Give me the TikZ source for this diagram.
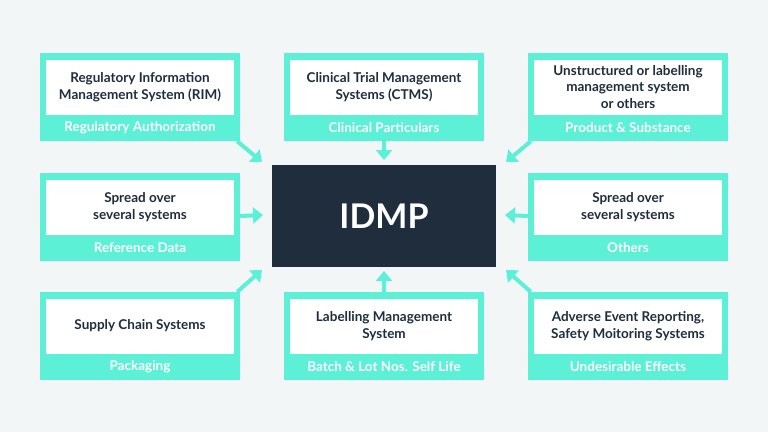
\documentclass[tikz,border=0pt]{standalone}
\usepackage{fontspec}
\setmainfont{Lato}
\usetikzlibrary{arrows.meta}
\definecolor{bg}{HTML}{F3F6F6}
\definecolor{tq}{HTML}{5CF0D6}
\definecolor{navy}{HTML}{1F2D3D}
\begin{document}
\begin{tikzpicture}[x=1pt,y=-1pt,
  outer/.style={fill=tq,draw=none,minimum width=200pt,minimum height=88pt,inner sep=0pt},
  inner/.style={fill=white,draw=none,minimum width=188pt,minimum height=55pt,align=center,font=\bfseries\fontsize{13.5}{16.5}\selectfont,text=navy},
  lab/.style={text=white,font=\bfseries\fontsize{13.5}{16}\selectfont},
  arr/.style={draw=tq,line width=4pt,-{Triangle[length=10pt,width=16pt]}}]
\useasboundingbox (0,0) rectangle (768,432);
\fill[bg] (0,0) rectangle (768,432);
\newcommand{\mybox}[5]{%
  \node[outer] (#1) at (#2,#3) {};
  \node[inner] (#1i) at (#2,#3-10) {#4};
  \node[lab] (#1l) at (#2,#3+31) {#5};}
\mybox{a}{140}{97}{Regulatory Information\\Management System (RIM)}{Regulatory Authorization}
\mybox{b}{384}{97}{Clinical Trial Management\\Systems (CTMS)}{Clinical Particulars}
\mybox{c}{628}{97}{Unstructured or labelling\\management system\\or others}{Product \& Substance}
\mybox{d}{140}{217}{Spread over\\several systems}{Reference Data}
\mybox{e}{628}{217}{Spread over\\several systems}{Others}
\mybox{f}{140}{336}{Supply Chain Systems}{Packaging}
\mybox{g}{384}{336}{Labelling Management\\System}{Batch \& Lot Nos. Self Life}
\mybox{h}{628}{336}{Adverse Event Reporting,\\Safety Moitoring Systems}{Undesirable Effects}
\node[fill=navy,minimum width=224pt,minimum height=102pt,text=white,font=\bfseries\fontsize{34}{40}\selectfont] (c0) at (384,216) {IDMP};
\coordinate (t1) at (262,162); \coordinate (t2) at (384,160); \coordinate (t3) at (506,162);
\coordinate (t4) at (263,215); \coordinate (t5) at (505,215);
\coordinate (t6) at (262,270); \coordinate (t7) at (384,271); \coordinate (t8) at (506,270);
\draw[arr] (a.south east)++(-3,0) -- (t1);
\draw[arr] (b.south) -- (t2);
\draw[arr] (c.south west)++(3,0) -- (t3);
\draw[arr] (d.east|-c0) -- (t4);
\draw[arr] (e.west|-c0) -- (t5);
\draw[arr] (f.north east)++(-3,0) -- (t6);
\draw[arr] (g.north) -- (t7);
\draw[arr] (h.north west)++(3,0) -- (t8);
\end{tikzpicture}
\end{document}
